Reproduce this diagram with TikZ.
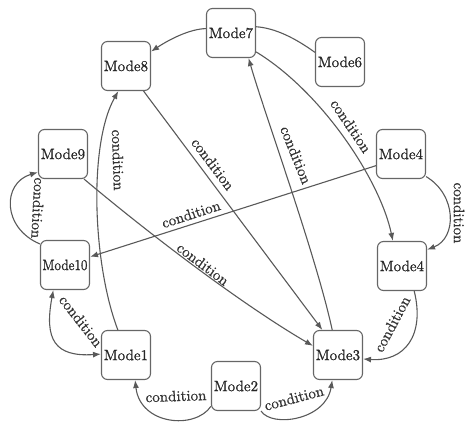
\documentclass[tikz,border=0pt]{standalone}
\usepackage{fontspec}
\newfontfamily\lmheavy{lmroman10-regular.otf}[FakeBold=0.8]
\usetikzlibrary{arrows.meta}
\begin{document}
\begin{tikzpicture}[x=1pt,y=-1pt,
  mode/.style={draw=black!60, line width=1.1pt, rounded corners=6pt, fill=white,
    minimum width=49pt, minimum height=49pt, inner sep=1pt,
    font=\lmheavy\fontsize{15}{18}\selectfont, text=black!85},
  lbl/.style={inner sep=0pt, font=\lmheavy\fontsize{15}{18}\selectfont, text=black!80},
  conn/.style={draw=black!65, line width=1.1pt},
  arr/.style={conn, -{Latex[length=8pt,width=6pt]}},
  darr/.style={conn, {Latex[length=8pt,width=6pt]}-{Latex[length=8pt,width=6pt]}}]
\useasboundingbox (0,0) rectangle (474,438);

\node[mode] (m7) at (231,33) {Mode7};
\node[mode] (m8) at (126,66) {Mode8};
\node[mode] (m6) at (340,62) {Mode6};
\node[mode] (m9) at (63,154) {Mode9};
\node[mode] (m4a) at (401,154) {Mode4};
\node[mode] (m10) at (65,265) {\scalebox{0.87}[1]{Mode10}};
\node[mode] (m4b) at (402,266) {Mode4};
\node[mode] (m1) at (126,355) {Mode1};
\node[mode] (m3) at (338,355) {Mode3};
\node[mode] (m2) at (236,386) {Mode2};

% connectors
\draw[arr] (m7.170) .. controls (190,29) and (170,39) .. (m8.30);
\draw[conn] (m7.14) .. controls (275,28) and (295,38) .. (m6.159);
\draw[arr] (m7.-37) .. controls (322,92) and (380,180) .. (m4b.110);
\draw[arr] (m3.103.5) .. controls (316,255) and (264,112) .. (m7.-55.8);
\draw[arr] (m8.-55.8) -- (m3.122.6);
\draw[arr] (m9.-50) .. controls (153,237) and (243,305) .. (m3.160);
\draw[arr] (m4a.-155) -- (m10.18);
\draw[arr] (m1.108) .. controls (93,265) and (88,145) .. (m8.-107);
\draw[arr] (m10.140) .. controls (2,228) and (2,183) .. (m9.-144);
\draw[darr] (m10.-115) .. controls (44,340) and (55,357) .. (m1.178);
\draw[arr] (m2.-141.6) .. controls (195,430) and (140,425) .. (m1.-70);
\draw[arr] (m2.-45) .. controls (272,428) and (326,420) .. (m3.-103.5);
\draw[arr] (m4b.-64) .. controls (425,335) and (405,362) .. (m3.-9);
\draw[arr] (m4a.-42.5) .. controls (457,195) and (457,238) .. (m4b.33);

% labels
\node[lbl, rotate=-56] (l1) at (351,126) {condition};
\node[lbl, rotate=-68] (l2) at (296,155) {condition};
\node[lbl, rotate=-53] (l3) at (213,164) {condition};
\node[lbl, rotate=-37] (l4) at (203,264) {condition};
\node[lbl, rotate=18] (l5) at (191,214) {condition};
\node[lbl, rotate=-88] (l6) at (118,160) {condition};
\node[lbl, rotate=-93] (l7) at (38,208) {condition};
\node[lbl, rotate=-52] (l8) at (81,321) {condition};
\node[lbl, rotate=2] (l9) at (176,396) {condition};
\node[lbl, rotate=15] (l10) at (294,398) {condition};
\node[lbl, rotate=62] (l11) at (392,324) {condition};
\node[lbl, rotate=-90] (l12) at (459,213) {condition};
\end{tikzpicture}
\end{document}
